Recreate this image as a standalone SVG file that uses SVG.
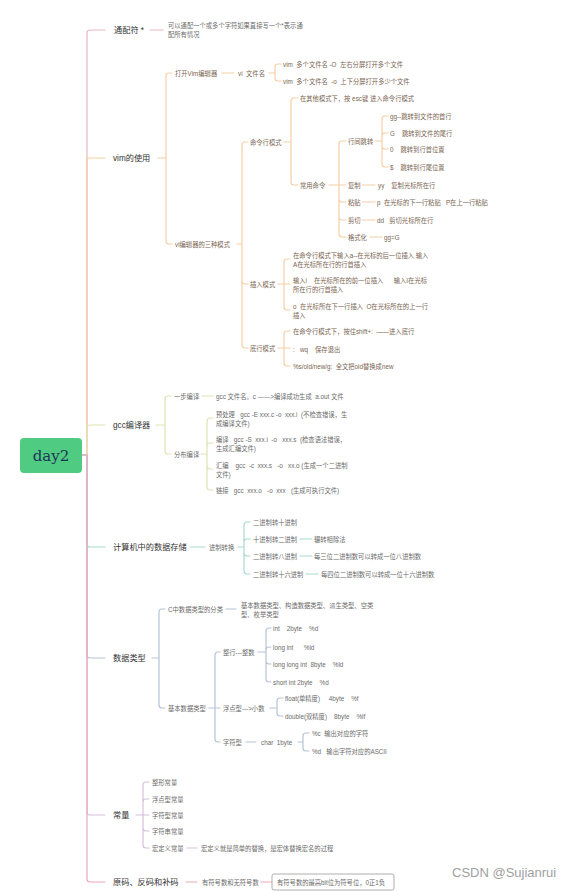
<svg xmlns="http://www.w3.org/2000/svg" width="577" height="891" viewBox="0 0 577 891" xml:space="preserve">
<style>
.l{fill:none;stroke-width:1.2;stroke-linecap:round;stroke-linejoin:round}
.c1{stroke:#eab6bc}.c2{stroke:#f6cfa5}.c3{stroke:#dfe3b4}.c4{stroke:#a9d9cd}.c5{stroke:#b7c3d7}.c6{stroke:#d6c0da}.c7{stroke:#eaaab6}
text{font-family:"Liberation Sans","Noto Sans CJK SC",sans-serif;dominant-baseline:central;white-space:pre}
.t1{font-size:8.2px;fill:#333}
.t2{font-size:6.3px;fill:#6b6b6b}
.tv{fill:#7a6552}
</style>
<rect width="577" height="891" fill="#fff"/>
<g id="connectors">
<path class="l c1" d="M82,455H87V33Q87,30 90,30H105"/>
<path class="l c2" d="M82,455H87V161Q87,158 90,158H105"/>
<path class="l c3" d="M82,455H87V428Q87,425 90,425H105"/>
<path class="l c4" d="M82,455H87V544Q87,547 90,547H105"/>
<path class="l c5" d="M82,455H87V655Q87,658 90,658H105"/>
<path class="l c6" d="M82,455H87V812Q87,815 90,815H105"/>
<path class="l c7" d="M82,455H87V879Q87,882 90,882H105"/>
<path class="l c1" d="M150,30H163"/>
<path class="l c2" d="M158,158H166V76Q166,73 169,73H172M158,158H166V241Q166,244 169,244H172"/>
<path class="l c2" d="M222,73H234"/>
<path class="l c2" d="M269,73H275V67Q275,64 278,64H281M269,73H275V78Q275,81 278,81H281"/>
<path class="l c2" d="M237,244H242V145Q242,142 245,142H248M237,244H242V281Q242,284 245,284H248M237,244H242V345Q242,348 245,348H248"/>
<path class="l c2" d="M284,142H291V101Q291,98 294,98H298M284,142H291V182Q291,185 294,185H298"/>
<path class="l c2" d="M329,185H339V144Q339,141 342,141H346M329,185H346M329,185H339V199Q339,202 342,202H346M329,185H339V217Q339,220 342,220H346M329,185H339V234Q339,237 342,237H346"/>
<path class="l c2" d="M375,141H382V119Q382,116 385,116H388M375,141H382V136Q382,133 385,133H388M375,141H382V146Q382,149 385,149H388M375,141H382V164Q382,167 385,167H388"/>
<path class="l c2" d="M362,185H375M362,202H375M362,220H375M370,237H382"/>
<path class="l c2" d="M278,284H284V262Q284,259 287,259H290M278,284H290M278,284H284V307Q284,310 287,310H290"/>
<path class="l c2" d="M278,348H284V334Q284,331 287,331H290M278,348H290M278,348H284V363Q284,366 287,366H290"/>
<path class="l c3" d="M156,425H165V399Q165,396 168,396H171M156,425H165V451Q165,454 168,454H171"/>
<path class="l c3" d="M202,396H213"/>
<path class="l c3" d="M201,454H207V421Q207,418 210,418H213M201,454H207V446Q207,443 210,443H213M201,454H207V466Q207,469 210,469H213M201,454H207V487Q207,490 210,490H213"/>
<path class="l c4" d="M190,547H205"/>
<path class="l c4" d="M238,547H244V525Q244,522 247,522H250M238,547H244V542Q244,539 247,539H250M238,547H244V553Q244,556 247,556H250M238,547H244V571Q244,574 247,574H250"/>
<path class="l c4" d="M300,539H312M300,556H312M306,574H318"/>
<path class="l c5" d="M152,658H159V612Q159,609 162,609H165M152,658H159V705Q159,708 162,708H165"/>
<path class="l c5" d="M226,609H236"/>
<path class="l c5" d="M209,708H215V655Q215,652 218,652H220M209,708H220M209,708H215V739Q215,742 218,742H220"/>
<path class="l c5" d="M258,652H266V631Q266,628 269,628H271M258,652H266V650Q266,647 269,647H271M258,652H266V661Q266,664 269,664H271M258,652H266V679Q266,682 269,682H271"/>
<path class="l c5" d="M270,708H277V701Q277,698 280,698H283M270,708H277V713Q277,716 280,716H283"/>
<path class="l c5" d="M246,742H256M298,742H303V736Q303,733 306,733H309M298,742H303V748Q303,751 306,751H309"/>
<path class="l c6" d="M136,815H143V785Q143,782 146,782H149M136,815H143V802Q143,799 146,799H149M136,815H149M136,815H143V828Q143,831 146,831H149M136,815H143V845Q143,848 146,848H149"/>
<path class="l c6" d="M187,848H197"/>
<path class="l c7" d="M186,882H197M261,882H272"/>
</g>
<g id="root"><rect x="20" y="438" width="62" height="35" rx="4" fill="#4fcb82"/><text x="51" y="455.5" text-anchor="middle" style="font-family:'DejaVu Serif',serif;font-size:15px;fill:#1d3557">day2</text></g>
<g id="n-wildcard"><text class="t1" x="114" y="30">通配符 *</text></g>
<g id="n-wildcard-desc"><text class="t2" x="168" y="25">可以通配一个或多个字符如果直接写一个*表示通</text><text class="t2" x="168" y="34">配所有情况</text></g>
<g id="n-vim"><text class="t1" x="113" y="158">vim的使用</text></g>
<g id="n-open"><text class="t2 tv" x="175" y="73">打开Vim编辑器</text></g>
<g id="n-vifile"><text class="t2 tv" x="238" y="73">vi  文件名</text></g>
<g id="n-vimO"><text class="t2 tv" x="283" y="64">vim  多个文件名 -O  左右分屏打开多个文件</text></g>
<g id="n-vimo"><text class="t2 tv" x="283" y="81">vim  多个文件名  -o  上下分屏打开多少个文件</text></g>
<g id="n-modes"><text class="t2 tv" x="175" y="244">vi编辑器的三种模式</text></g>
<g id="n-cmdmode"><text class="t2 tv" x="250" y="142">命令行模式</text></g>
<g id="n-esc"><text class="t2 tv" x="300" y="98">在其他模式下，按 esc键 进入命令行模式</text></g>
<g id="n-common"><text class="t2 tv" x="300" y="185">常用命令</text></g>
<g id="n-jump"><text class="t2 tv" x="348" y="141">行间跳转</text></g>
<g id="n-gg"><text class="t2 tv" x="390" y="116">gg--跳转到文件的首行</text></g>
<g id="n-G"><text class="t2 tv" x="390" y="133">G    跳转到文件的尾行</text></g>
<g id="n-0"><text class="t2 tv" x="390" y="149">0    跳转到行首位置</text></g>
<g id="n-dollar"><text class="t2 tv" x="390" y="167">$    跳转到行尾位置</text></g>
<g id="n-copy"><text class="t2 tv" x="348" y="185">复制</text></g>
<g id="n-yy"><text class="t2 tv" x="378" y="185">yy    复制光标所在行</text></g>
<g id="n-paste"><text class="t2 tv" x="348" y="202">粘贴</text></g>
<g id="n-p"><text class="t2 tv" x="377" y="202">p  在光标的下一行粘贴   P在上一行粘贴</text></g>
<g id="n-cut"><text class="t2 tv" x="348" y="220">剪切</text></g>
<g id="n-dd"><text class="t2 tv" x="377" y="220">dd   剪切光标所在行</text></g>
<g id="n-fmt"><text class="t2 tv" x="348" y="237">格式化</text></g>
<g id="n-ggG"><text class="t2 tv" x="384" y="237">gg=G</text></g>
<g id="n-insmode"><text class="t2 tv" x="250" y="284">插入模式</text></g>
<g id="n-ins1"><text class="t2 tv" x="293" y="255">在命令行模式下输入a--在光标的后一位插入 输入</text><text class="t2 tv" x="293" y="264">A在光标所在行的行首插入</text></g>
<g id="n-ins2"><text class="t2 tv" x="293" y="280">输入i    在光标所在的前一位插入      输入I在光标</text><text class="t2 tv" x="293" y="289">所在行的行首插入</text></g>
<g id="n-ins3"><text class="t2 tv" x="293" y="306">o  在光标所在下一行插入  O在光标所在的上一行</text><text class="t2 tv" x="293" y="315">插入</text></g>
<g id="n-lastmode"><text class="t2 tv" x="250" y="348">底行模式</text></g>
<g id="n-last1"><text class="t2 tv" x="293" y="331">在命令行模式下，按住shift+:  ——进入底行</text></g>
<g id="n-last2"><text class="t2 tv" x="293" y="349">:   wq    保存退出</text></g>
<g id="n-last3"><text class="t2 tv" x="293" y="366">%s/old/new/g:  全文把old替换成new</text></g>
<g id="n-gcc"><text class="t1" x="113" y="425">gcc编译器</text></g>
<g id="n-onestep"><text class="t2" x="174" y="396">一步编译</text></g>
<g id="n-onestep-d"><text class="t2" x="216" y="396">gcc 文件名。c ------&gt;编译成功生成  a.out 文件</text></g>
<g id="n-steps"><text class="t2" x="174" y="454">分布编译</text></g>
<g id="n-pre"><text class="t2" x="216" y="414">预处理   gcc -E xxx.c -o  xxx.i  (不检查错误，生</text><text class="t2" x="216" y="423">成编译文件)</text></g>
<g id="n-comp"><text class="t2" x="216" y="439">编译   gcc -S  xxx.i  -o   xxx.s  (检查语法错误，</text><text class="t2" x="216" y="448">生成汇编文件)</text></g>
<g id="n-asm"><text class="t2" x="216" y="465">汇编    gcc  -c  xxx.s   -o   xx.o (生成一个二进制</text><text class="t2" x="216" y="474">文件)</text></g>
<g id="n-link"><text class="t2" x="216" y="490">链接   gcc  xxx.o   -o  xxx   (生成可执行文件)</text></g>
<g id="n-store"><text class="t1" x="113" y="547">计算机中的数据存储</text></g>
<g id="n-conv"><text class="t2" x="209" y="547">进制转换</text></g>
<g id="n-b2d"><text class="t2" x="253" y="522">二进制转十进制</text></g>
<g id="n-d2b"><text class="t2" x="253" y="539">十进制转二进制</text></g>
<g id="n-d2b-d"><text class="t2" x="314" y="539">辗转相除法</text></g>
<g id="n-b2o"><text class="t2" x="253" y="556">二进制转八进制</text></g>
<g id="n-b2o-d"><text class="t2" x="314" y="556">每三位二进制数可以转成一位八进制数</text></g>
<g id="n-b2h"><text class="t2" x="253" y="574">二进制转十六进制</text></g>
<g id="n-b2h-d"><text class="t2" x="321" y="574">每四位二进制数可以转成一位十六进制数</text></g>
<g id="n-types"><text class="t1" x="113" y="658">数据类型</text></g>
<g id="n-cls"><text class="t2" x="168" y="609">C中数据类型的分类</text></g>
<g id="n-cls-d"><text class="t2" x="241" y="605">基本数据类型、构造数据类型、派生类型、空类</text><text class="t2" x="241" y="614">型、枚举类型</text></g>
<g id="n-basic"><text class="t2" x="168" y="708">基本数据类型</text></g>
<g id="n-int"><text class="t2" x="223" y="652">整行---整数</text></g>
<g id="n-int1"><text class="t2" x="273" y="628">int    2byte    %d</text></g>
<g id="n-int2"><text class="t2" x="273" y="647">long int      %ld</text></g>
<g id="n-int3"><text class="t2" x="273" y="664">long long int  8byte    %ld</text></g>
<g id="n-int4"><text class="t2" x="273" y="682">short int 2byte    %d</text></g>
<g id="n-float"><text class="t2" x="223" y="708">浮点型---&gt;小数</text></g>
<g id="n-f1"><text class="t2" x="285" y="698">float(单精度)     4byte    %f</text></g>
<g id="n-f2"><text class="t2" x="285" y="716">double(双精度)    8byte    %lf</text></g>
<g id="n-char"><text class="t2" x="223" y="742">字符型</text></g>
<g id="n-char1"><text class="t2" x="261" y="742">char  1byte</text></g>
<g id="n-c1"><text class="t2" x="312" y="733">%c  输出对应的字符</text></g>
<g id="n-c2"><text class="t2" x="312" y="751">%d   输出字符对应的ASCII</text></g>
<g id="n-const"><text class="t1" x="113" y="815">常量</text></g>
<g id="n-k1"><text class="t2" x="152" y="782">整形常量</text></g>
<g id="n-k2"><text class="t2" x="152" y="799">浮点型常量</text></g>
<g id="n-k3"><text class="t2" x="152" y="815">字符型常量</text></g>
<g id="n-k4"><text class="t2" x="152" y="831">字符串常量</text></g>
<g id="n-k5"><text class="t2" x="152" y="848">宏定义常量</text></g>
<g id="n-k5-d"><text class="t2" x="201" y="848">宏定义就是简单的替换，是宏体替换宏名的过程</text></g>
<g id="n-code"><text class="t1" x="113" y="882">原码、反码和补码</text></g>
<g id="n-sign"><text class="t2" x="202" y="882">有符号数和无符号数</text></g>
<g id="n-sign-d"><rect x="272" y="874" width="122" height="16" rx="2" fill="#fff" stroke="#9a9a9a" stroke-width="0.8"/><text class="t2" x="277" y="882">有符号数的最高bit位为符号位，0正1负</text></g>
<text x="452" y="872" style="font-size:13px;fill:#a0a0a0;font-family:'Liberation Sans',sans-serif">CSDN @Sujianrui</text>
</svg>
